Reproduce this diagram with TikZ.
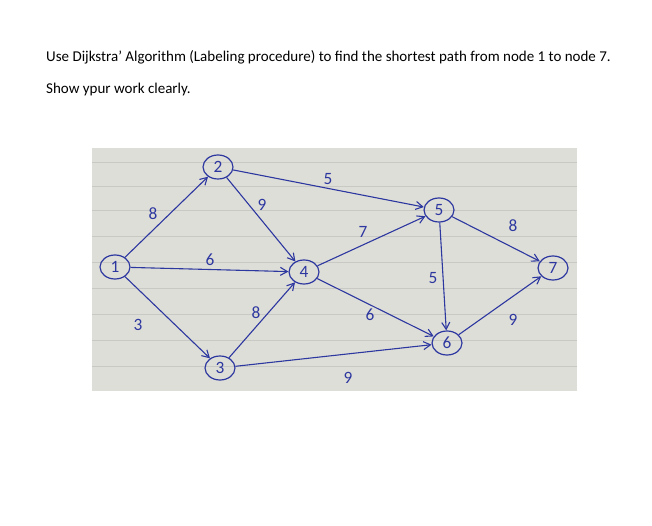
\documentclass[tikz,border=0pt]{standalone}
\usepackage{fontspec}
\setmainfont{Carlito}
\usetikzlibrary{arrows.meta,shapes.geometric}
\definecolor{ink}{RGB}{45,55,160}
\definecolor{paper}{RGB}{222,222,216}
\definecolor{rule}{RGB}{200,200,196}
\tikzset{
 v/.style={draw=ink,line width=1.2pt,ellipse,minimum width=30pt,minimum height=24pt,inner sep=0pt,text=ink,font=\LARGE},
 e/.style={draw=ink,line width=1.1pt,-{Straight Barb[length=7pt,width=8pt]}},
 w/.style={text=ink,font=\LARGE}
}
\begin{document}
\begin{tikzpicture}[x=1pt,y=-1pt]
\useasboundingbox (0,0) rectangle (652,526);
\fill[white] (0,0) rectangle (652,526);
\node[anchor=west,font=\fontsize{15}{17}\selectfont,inner sep=0] (t1) at (46,57) {Use Dijkstra' Algorithm (Labeling procedure) to find the shortest path from node 1 to node 7.};
\node[anchor=west,font=\fontsize{15}{17}\selectfont,inner sep=0] (t2) at (46,90) {Show ypur work clearly.};
\fill[paper] (92,148) rectangle (577,391);
\foreach \yy in {162,186,210,236,262,288,314,340,366} \draw[rule] (92,\yy) -- (577,\yy);
\node[v] (n1) at (115,267) {1};
\node[v] (n2) at (218,167) {2};
\node[v] (n3) at (220,368) {3};
\node[v] (n4) at (304,272) {4};
\node[v] (n5) at (439,210) {5};
\node[v] (n6) at (447,343) {6};
\node[v] (n7) at (553,268) {7};
\draw[e] (n1) -- (n2);
\draw[e] (n1) -- (n4);
\draw[e] (n1) -- (n3);
\draw[e] (n2) -- (n4);
\draw[e] (n2) -- (n5);
\draw[e] (n3) -- (n4);
\draw[e] (n3) -- (n6);
\draw[e] (n4) -- (n5);
\draw[e] (n4) -- (n6);
\draw[e] (n5) -- (n6);
\draw[e] (n5) -- (n7);
\draw[e] (n6) -- (n7);
\node[w] (l12) at (153,214) {8};
\node[w] (l14) at (210,260) {6};
\node[w] (l13) at (138,325) {3};
\node[w] (l24) at (262,205) {9};
\node[w] (l25) at (328,179) {5};
\node[w] (l34) at (256,313) {8};
\node[w] (l36) at (348,378) {9};
\node[w] (l45) at (363,232) {7};
\node[w] (l46) at (370,315) {6};
\node[w] (l56) at (433,278) {5};
\node[w] (l57) at (513,226) {8};
\node[w] (l67) at (513,320) {9};
\end{tikzpicture}
\end{document}
